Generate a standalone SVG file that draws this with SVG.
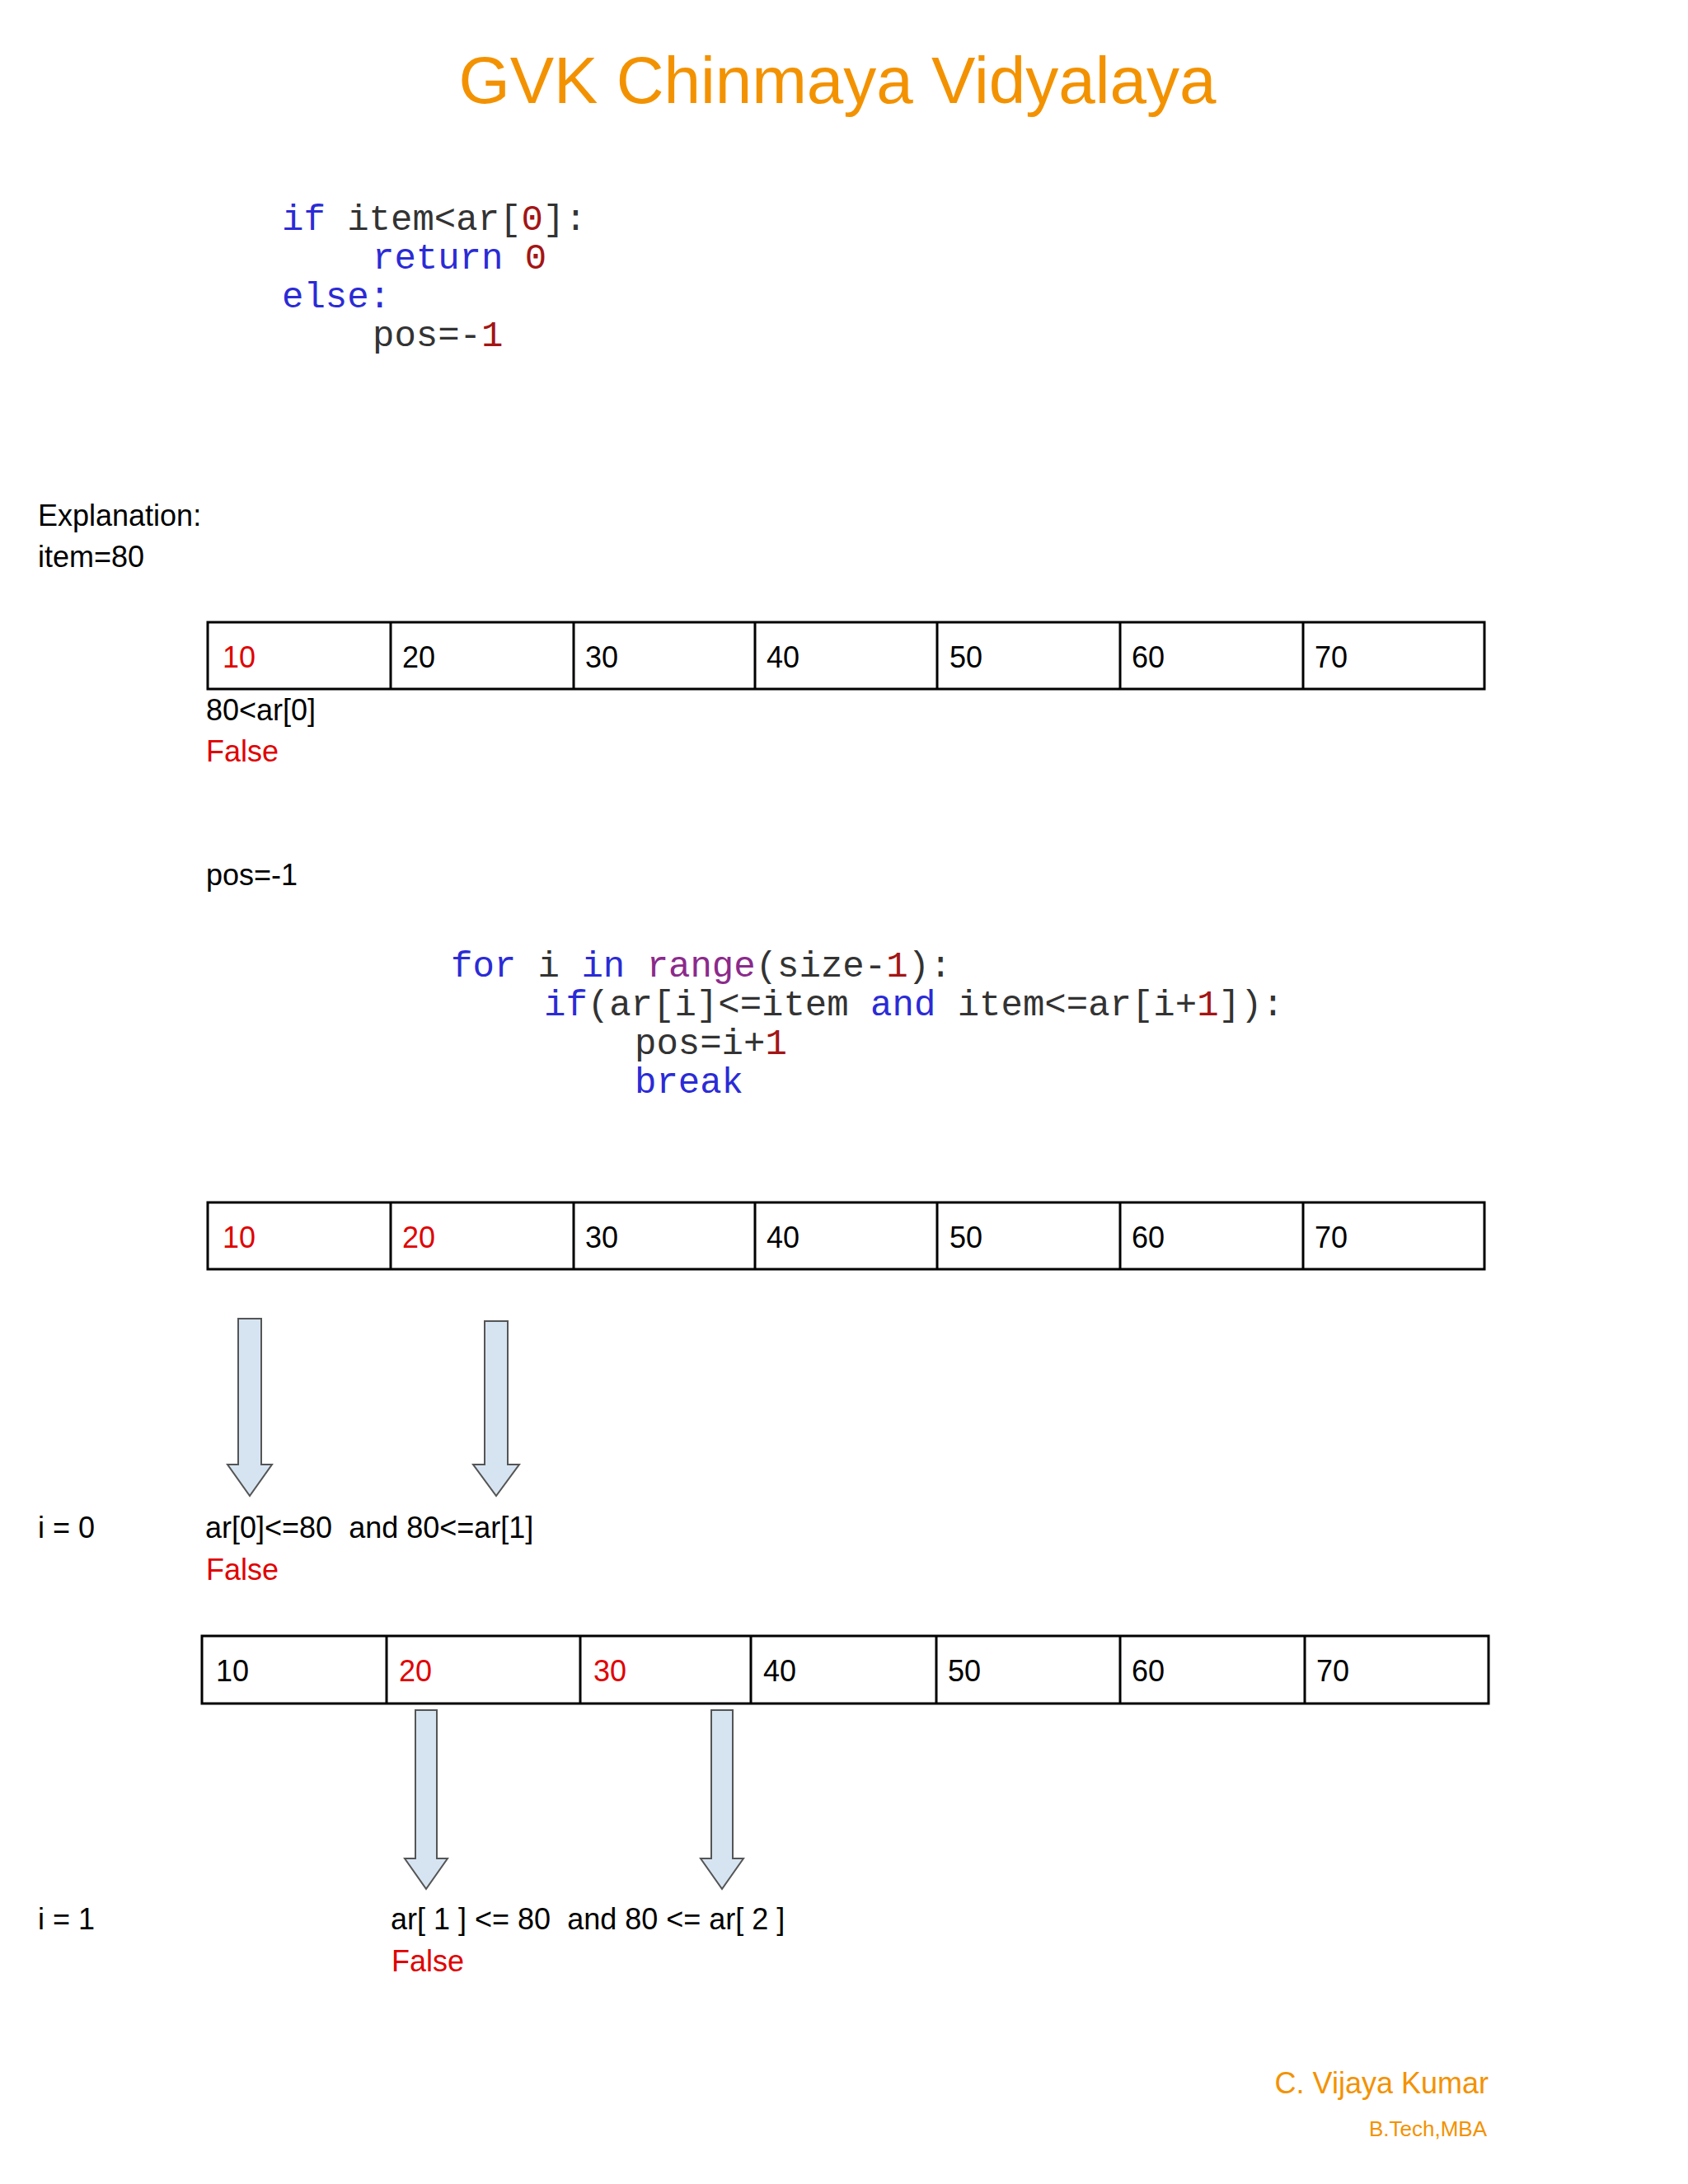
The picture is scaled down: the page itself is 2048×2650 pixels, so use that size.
<svg xmlns="http://www.w3.org/2000/svg" width="2048" height="2650" viewBox="0 0 2048 2650">
<style>
.t{font-family:"Liberation Sans",Arial,sans-serif;font-size:36px;fill:#000}
.r{fill:#e00000}
.o{fill:#f39200}
.c{font-family:"Liberation Mono","DejaVu Sans Mono",monospace;font-size:44px;fill:#333}
.k{fill:#2b2bd6}.n{fill:#a31515}.p{fill:#8b2a8b}
.cell{fill:none;stroke:#000;stroke-width:3}
.ar{fill:#d6e4f2;stroke:#555;stroke-width:2}
</style>
<rect width="2048" height="2650" fill="#fff"/>
<text x="1016" y="125" text-anchor="middle" class="t o" style="font-size:80px">GVK Chinmaya Vidyalaya</text>
<g id="code1" class="c">
<text x="342" y="279"><tspan class="k">if</tspan> item&lt;ar[<tspan class="n">0</tspan>]:</text>
<text x="452" y="326" class="k">return <tspan class="n">0</tspan></text>
<text x="342" y="373" class="k">else:</text>
<text x="452" y="420">pos=-<tspan class="n">1</tspan></text>
</g>
<text x="46" y="638" class="t">Explanation:</text>
<text x="46" y="688" class="t">item=80</text>
<g id="table1">
<rect x="252" y="755" width="1549" height="81" class="cell"/>
<path d="M474 755V836M696 755V836M916 755V836M1137 755V836M1359 755V836M1581 755V836" class="cell"/>
<text x="270" y="810" class="t r">10</text><text x="488" y="810" class="t">20</text><text x="710" y="810" class="t">30</text><text x="930" y="810" class="t">40</text><text x="1152" y="810" class="t">50</text><text x="1373" y="810" class="t">60</text><text x="1595" y="810" class="t">70</text>
</g>
<text x="250" y="874" class="t">80&lt;ar[0]</text>
<text x="250" y="924" class="t r">False</text>
<text x="250" y="1074" class="t">pos=-1</text>
<g id="code2" class="c">
<text x="547" y="1185"><tspan class="k">for</tspan> i <tspan class="k">in</tspan> <tspan class="p">range</tspan>(size-<tspan class="n">1</tspan>):</text>
<text x="660" y="1232"><tspan class="k">if</tspan>(ar[i]&lt;=item <tspan class="k">and</tspan> item&lt;=ar[i+<tspan class="n">1</tspan>]):</text>
<text x="770" y="1279">pos=i+<tspan class="n">1</tspan></text>
<text x="770" y="1326" class="k">break</text>
</g>
<g id="table2">
<rect x="252" y="1459" width="1549" height="81" class="cell"/>
<path d="M474 1459V1540M696 1459V1540M916 1459V1540M1137 1459V1540M1359 1459V1540M1581 1459V1540" class="cell"/>
<text x="270" y="1514" class="t r">10</text><text x="488" y="1514" class="t r">20</text><text x="710" y="1514" class="t">30</text><text x="930" y="1514" class="t">40</text><text x="1152" y="1514" class="t">50</text><text x="1373" y="1514" class="t">60</text><text x="1595" y="1514" class="t">70</text>
</g>
<g id="connectors">
<path class="ar" d="M289 1600H317V1777H330L303 1815L276 1777H289Z"/>
<path class="ar" d="M588 1603H616V1777H630L602 1815L574 1777H588Z"/>
<path class="ar" d="M504 2075H530V2255H543L517 2292L491 2255H504Z"/>
<path class="ar" d="M863 2075H889V2255H902L876 2292L850 2255H863Z"/>
</g>
<text x="46" y="1866" class="t">i = 0</text>
<text x="249" y="1866" class="t" xml:space="preserve">ar[0]&lt;=80  and 80&lt;=ar[1]</text>
<text x="250" y="1917" class="t r">False</text>
<g id="table3">
<rect x="245" y="1985" width="1561" height="82" class="cell"/>
<path d="M469 1985V2067M704 1985V2067M911 1985V2067M1136 1985V2067M1359 1985V2067M1583 1985V2067" class="cell"/>
<text x="262" y="2040" class="t">10</text><text x="484" y="2040" class="t r">20</text><text x="720" y="2040" class="t r">30</text><text x="926" y="2040" class="t">40</text><text x="1150" y="2040" class="t">50</text><text x="1373" y="2040" class="t">60</text><text x="1597" y="2040" class="t">70</text>
</g>
<text x="46" y="2341" class="t">i = 1</text>
<text x="474" y="2341" class="t" xml:space="preserve">ar[ 1 ] &lt;= 80  and 80 &lt;= ar[ 2 ]</text>
<text x="475" y="2392" class="t r">False</text>
<text x="1806" y="2540" text-anchor="end" class="t o">C. Vijaya Kumar</text>
<text x="1804" y="2592" text-anchor="end" class="t o" style="font-size:26px">B.Tech,MBA</text>
</svg>
